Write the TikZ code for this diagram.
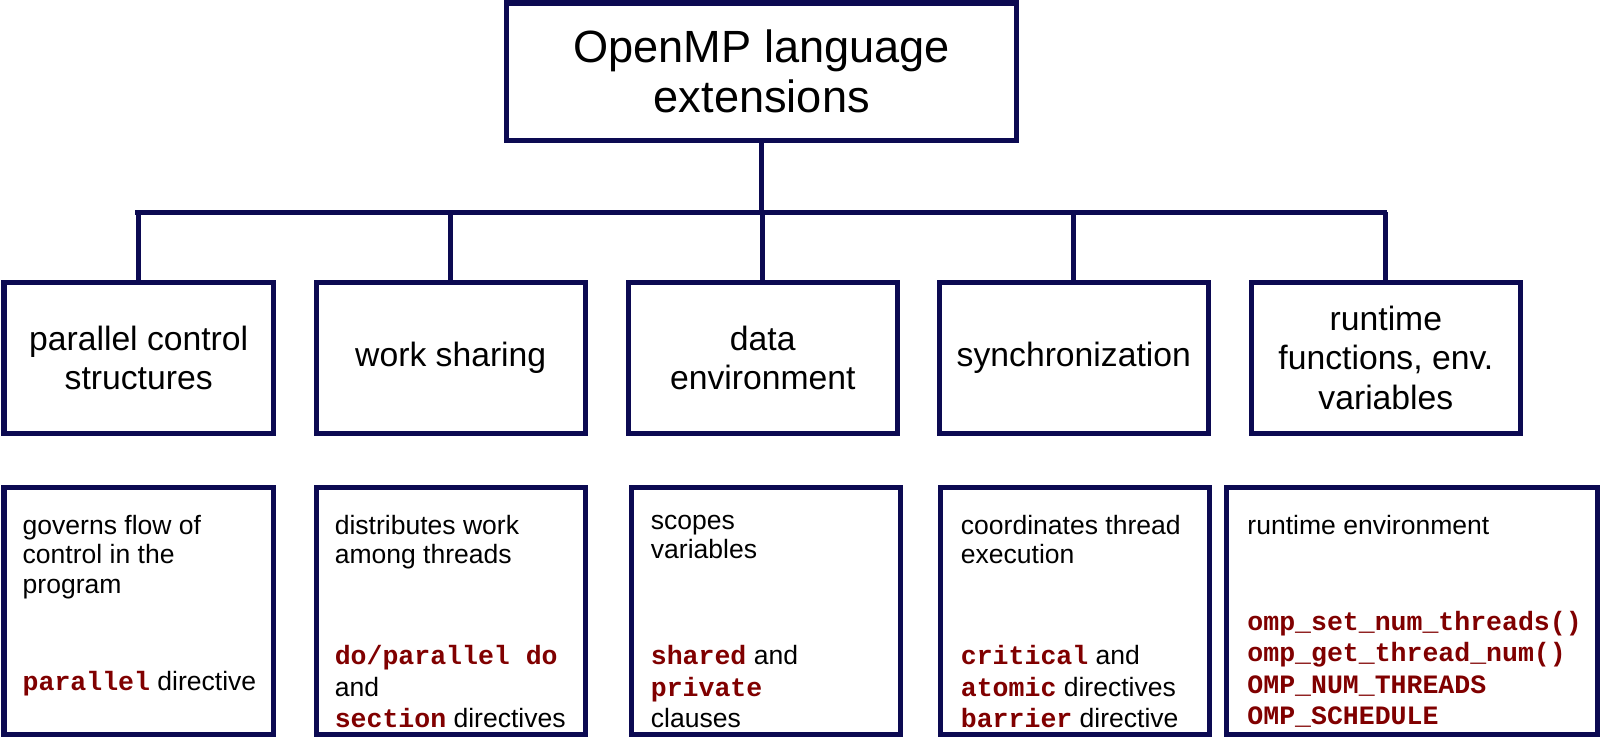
\documentclass[tikz,border=0pt]{standalone}
\usepackage{fontspec}
\setmainfont{Liberation Sans}
\setmonofont{Liberation Mono}
\definecolor{navy}{RGB}{12,10,82}
\definecolor{code}{RGB}{128,0,0}
\newcommand{\cd}[1]{{\ttfamily\bfseries\color{code}#1}}
\begin{document}
\begin{tikzpicture}[x=0.025cm,y=-0.025cm,
  box/.style={draw=navy,line width=3.6pt,inner sep=0pt},
  lbl/.style={font=\fontsize{23.5}{27.5}\selectfont,align=center},
  txt/.style={font=\fontsize{18.5}{20.5}\selectfont,align=left,anchor=north west,inner sep=0pt},
  cds/.style={font=\fontsize{18.5}{22}\selectfont,align=left,anchor=south west,inner sep=0pt},
  conn/.style={draw=navy,line width=3.6pt}]
\useasboundingbox (0,0) rectangle (1569,725);
\draw[box] (497,3) rectangle (997,138);
\node[font=\fontsize{31.5}{35}\selectfont,align=center] (top) at (747,70) {OpenMP language\\extensions};
\coordinate (tb) at (747,138);
\coordinate (hj) at (747,208);
\draw[conn] (tb) -- (hj);
\draw[conn,line cap=rect] (135,208) -- (1358,208);
\foreach \x/\c/\t [count=\i] in {4/136/{parallel control\\structures},310/442/{work sharing},616/748/{data\\environment},921/1053/{synchronization},1227/1359/{runtime\\functions, env.\\variables}}{
  \draw[box] (\x,277) rectangle ({\x+264},425);
  \node[lbl] (l\i) at (\c,351) {\t};
  \coordinate (a\i) at (\c,208);
  \coordinate (b\i) at (\c,277);
  \draw[conn] (a\i) -- (b\i);
}
\draw[box] (4,478) rectangle (268,720);
\draw[box] (310,478) rectangle (574,720);
\draw[box] (619,478) rectangle (883,720);
\draw[box] (922,478) rectangle (1186,720);
\draw[box] (1203,478) rectangle (1567,720);
\node[txt] (d1) at (22,505) {governs flow of\\control in the\\program};
\node[txt] (d2) at (328,505) {distributes work\\among threads};
\node[txt] (d3) at (638,505) {scopes\\variables};
\node[txt] (d4) at (942,505) {coordinates thread\\execution};
\node[txt] (d5) at (1223,505) {runtime environment};
\node[cds] (c1) at (22,683) {\cd{parallel} directive};
\node[cds] (c2) at (328,714) {\cd{do/parallel do}\\and\\\cd{section} directives};
\node[cds] (c3) at (638,714) {\cd{shared} and\\\cd{private}\\clauses};
\node[cds] (c4) at (942,714) {\cd{critical} and\\\cd{atomic} directives\\\cd{barrier} directive};
\node[cds] (c5) at (1223,714) {\cd{omp\_set\_num\_threads()}\\\cd{omp\_get\_thread\_num()}\\\cd{OMP\_NUM\_THREADS}\\\cd{OMP\_SCHEDULE}};
\end{tikzpicture}
\end{document}
